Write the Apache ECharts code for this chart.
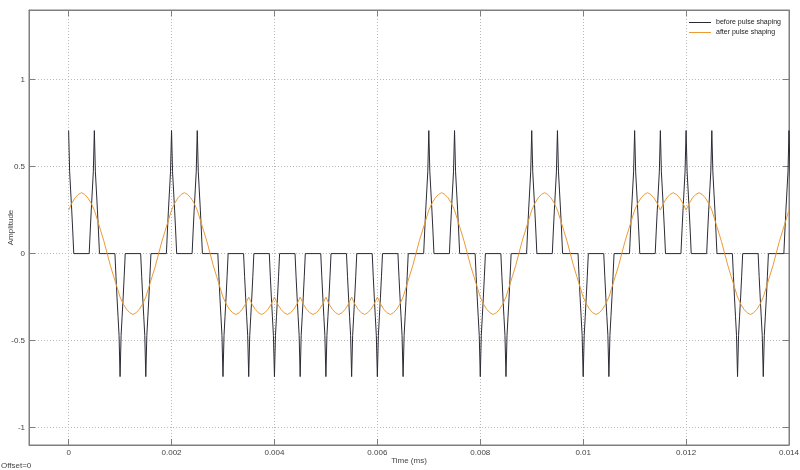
<!DOCTYPE html>
<html><head><meta charset="utf-8">
<script src="https://cdn.jsdelivr.net/npm/echarts@6/dist/echarts.min.js"></script>
<style>html,body{margin:0;padding:0;background:#fff}#c{width:800px;height:470px}</style>
</head><body><div id="c"></div>
<script>
// symbol instants (s) and their signs
const symbolTimes = [0,0.0005,0.001,0.0015,0.002,0.0025,0.003,0.0035,0.004,0.0045,0.005,0.0055,0.006,0.0065,0.007,0.0075,0.008,0.0085,0.009,0.0095,0.01,0.0105,0.011,0.0115,0.012,0.0125,0.013,0.0135,0.014];
const symbolSigns = [1,1,-1,-1,1,1,-1,-1,-1,-1,-1,-1,-1,-1,1,1,-1,-1,1,1,-1,-1,1,1,1,1,-1,-1,1];
// one pulse before shaping (offset from its instant, amplitude)
const pulseOffsets = [-0.0001,-0.00008,-0.00006,-0.00004,-0.00002,0,0.00002,0.00004,0.00006,0.00008,0.0001];
const pulseShape = [0,0.13,0.25,0.36,0.47,0.707,0.47,0.36,0.25,0.13,0];
// shaped signal between two symbols: sampled at 1/8 of the gap
const gapOffsets = [0,0.0000625,0.000125,0.0001875,0.00025,0.0003125,0.000375,0.0004375,0.0005];
const sameSignShape = [0.25,0.29,0.32,0.34,0.35,0.34,0.32,0.29,0.25];
const changeSignShape = [0.25,0.19,0.13,0.07,0,-0.07,-0.13,-0.19,-0.25];
const xTicks = [0,0.002,0.004,0.006,0.008,0.01,0.012,0.014];
const yTicks = [-1,-0.5,0,0.5,1];

const before = [];
symbolTimes.forEach((t,k)=>{
  pulseOffsets.forEach((o,i)=>{ if(t+o>=0) before.push([t+o, symbolSigns[k]*pulseShape[i]]); });
});
const after = [];
for(let k=0;k<symbolTimes.length-1;k++){
  const s=symbolSigns[k], shape = s===symbolSigns[k+1]?sameSignShape:changeSignShape;
  gapOffsets.forEach((o,i)=>{ if(i===0&&k>0) return; after.push([symbolTimes[k]+o, s*shape[i]]); });
}

const grey='#7f7f7f', txt='#444', font='Liberation Sans';
const gridLine={show:true,lineStyle:{color:'#b8b8b8',type:[1,2],width:1}};
const chart=echarts.init(document.getElementById('c'),null,{renderer:'canvas'});
chart.setOption({
  animation:false,
  grid:{left:29,right:11,top:10,bottom:25,containLabel:false,outerBoundsMode:'none',show:true,borderColor:grey,borderWidth:1},
  xAxis:[{type:'value',min:-0.00077,max:0.014,position:'bottom',
    axisLine:{show:true,onZero:false,lineStyle:{color:grey}},
    axisTick:{show:true,inside:true,length:6,lineStyle:{color:grey},customValues:xTicks},
    axisLabel:{customValues:xTicks,color:txt,fontSize:8,fontFamily:font,margin:4,formatter:v=>String(+v.toFixed(4))},
    splitLine:gridLine,nameMoveOverlap:false,
    name:'Time (ms)',nameLocation:'middle',nameGap:12,nameTextStyle:{color:txt,fontSize:8,fontFamily:font}},
   {type:'value',min:-0.00077,max:0.014,position:'top',
    axisLine:{show:true,onZero:false,lineStyle:{color:grey}},
    axisTick:{show:true,inside:true,length:6,lineStyle:{color:grey},customValues:xTicks},
    axisLabel:{show:false},splitLine:{show:false}}],
  yAxis:[{type:'value',min:-1.1,max:1.4,position:'left',
    axisLine:{show:true,onZero:false,lineStyle:{color:grey}},
    axisTick:{show:true,inside:true,length:6,lineStyle:{color:grey},customValues:yTicks},
    axisLabel:{customValues:yTicks,color:txt,fontSize:8,fontFamily:font,margin:4},
    splitLine:gridLine,nameMoveOverlap:false,
    name:'Amplitude',nameLocation:'middle',nameGap:14,nameRotate:90,nameTextStyle:{color:txt,fontSize:8,fontFamily:font}},
   {type:'value',min:-1.1,max:1.4,position:'right',
    axisLine:{show:true,onZero:false,lineStyle:{color:grey}},
    axisTick:{show:true,inside:true,length:6,lineStyle:{color:grey},customValues:yTicks},
    axisLabel:{show:false},splitLine:{show:false}}],
  legend:{right:14,top:14,orient:'vertical',itemGap:3,itemWidth:22,itemHeight:1,icon:'rect',
    textStyle:{color:'#222',fontSize:7,fontFamily:font},
    data:['before pulse shaping','after pulse shaping']},
  graphic:[{type:'text',left:1,top:462,style:{text:'Offset=0',fill:txt,font:'8px "Liberation Sans"'}}],
  series:[
    {name:'before pulse shaping',type:'line',data:before,showSymbol:false,symbol:'none',
     lineStyle:{color:'#2b2b35',width:1},itemStyle:{color:'#2b2b35'},z:2},
    {name:'after pulse shaping',type:'line',data:after,showSymbol:false,symbol:'none',
     lineStyle:{color:'#eb9a35',width:1},itemStyle:{color:'#eb9a35'},z:3}
  ]
});
</script></body></html>
